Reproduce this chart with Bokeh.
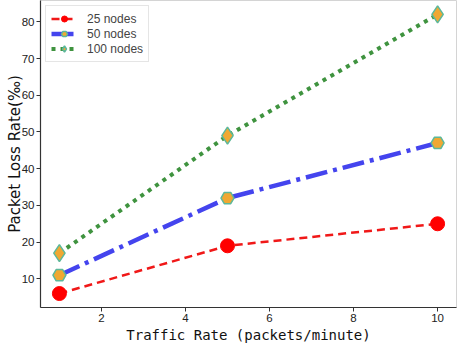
from bokeh.plotting import figure
from bokeh.models import Range1d, FixedTicker
from bokeh.embed import file_html
from bokeh.resources import INLINE

traffic_rate = [1, 5, 10]
loss_25 = [6, 19, 25]
loss_50 = [11, 32, 47]
loss_100 = [17, 49, 82]
x_ticks = [2, 4, 6, 8, 10]
y_ticks = [10, 20, 30, 40, 50, 60, 70, 80]

p = figure(width=458, height=345, output_backend="svg", toolbar_location=None,
           x_range=Range1d(0.55, 10.45), y_range=Range1d(2.2, 85.8),
           min_border_left=40, min_border_right=2, min_border_top=0, min_border_bottom=37)
p.background_fill_color = "white"
p.border_fill_color = "white"
p.outline_line_color = "#d4d4d4"
p.grid.visible = False

for ax in (p.xaxis, p.yaxis):
    ax.axis_line_color = "#333333"
    ax.axis_line_width = 1.2
    ax.major_tick_line_color = "#333333"
    ax.major_tick_out = 4
    ax.major_tick_in = 0
    ax.minor_tick_line_color = None
    ax.major_label_text_font = "Liberation Sans"
    ax.major_label_text_font_size = "11.5px"
    ax.major_label_text_color = "#222222"
    ax.major_label_standoff = 2

p.xaxis.ticker = FixedTicker(ticks=x_ticks)
p.yaxis.ticker = FixedTicker(ticks=y_ticks)

p.xaxis.axis_label = "Traffic Rate (packets/minute)"
p.xaxis.axis_label_text_font = "DejaVu Sans Mono"
p.xaxis.axis_label_text_font_size = "14px"
p.xaxis.axis_label_text_font_style = "normal"
p.xaxis.axis_label_text_color = "#111111"
p.xaxis.axis_label_standoff = 2
p.yaxis.axis_label = "Packet Loss Rate(‰)"
p.yaxis.axis_label_text_font = "DejaVu Sans"
p.yaxis.axis_label_text_font_size = "15px"
p.yaxis.axis_label_text_font_style = "normal"
p.yaxis.axis_label_text_color = "#111111"
p.yaxis.axis_label_standoff = -5

mfill = "#f0a832"
medge = "#5cb89a"

p.line(traffic_rate, loss_25, line_color="#f01818", line_width=2.5, line_dash="8 5",
       legend_label="25 nodes")
p.scatter(traffic_rate, loss_25, marker="circle", size=14, fill_color="#ff0000",
          line_color="#ff0000", legend_label="25 nodes")

p.line(traffic_rate, loss_50, line_color="#4444ee", line_width=4.5, line_dash="22 6 4 6",
       legend_label="50 nodes")
p.scatter(traffic_rate, loss_50, marker="hex", size=13, fill_color=mfill,
          line_color=medge, line_width=1.5, legend_label="50 nodes")

p.line(traffic_rate, loss_100, line_color="#3f933f", line_width=4, line_dash="4 5",
       legend_label="100 nodes")
p.scatter(traffic_rate, loss_100, marker="diamond", size=17, fill_color=mfill,
          line_color=medge, line_width=1.5, legend_label="100 nodes")

lg = p.legend[0]
lg.location = "top_left"
lg.margin = 5
lg.padding = 5
lg.spacing = 0
lg.label_text_font = "Liberation Sans"
lg.label_text_font_size = "12px"
lg.label_height = 15
lg.glyph_height = 15
lg.glyph_width = 26
lg.label_standoff = 10
lg.border_line_color = "#cccccc"
lg.border_line_width = 1
lg.background_fill_alpha = 1.0

open("out.html", "w").write(file_html(p, INLINE))
